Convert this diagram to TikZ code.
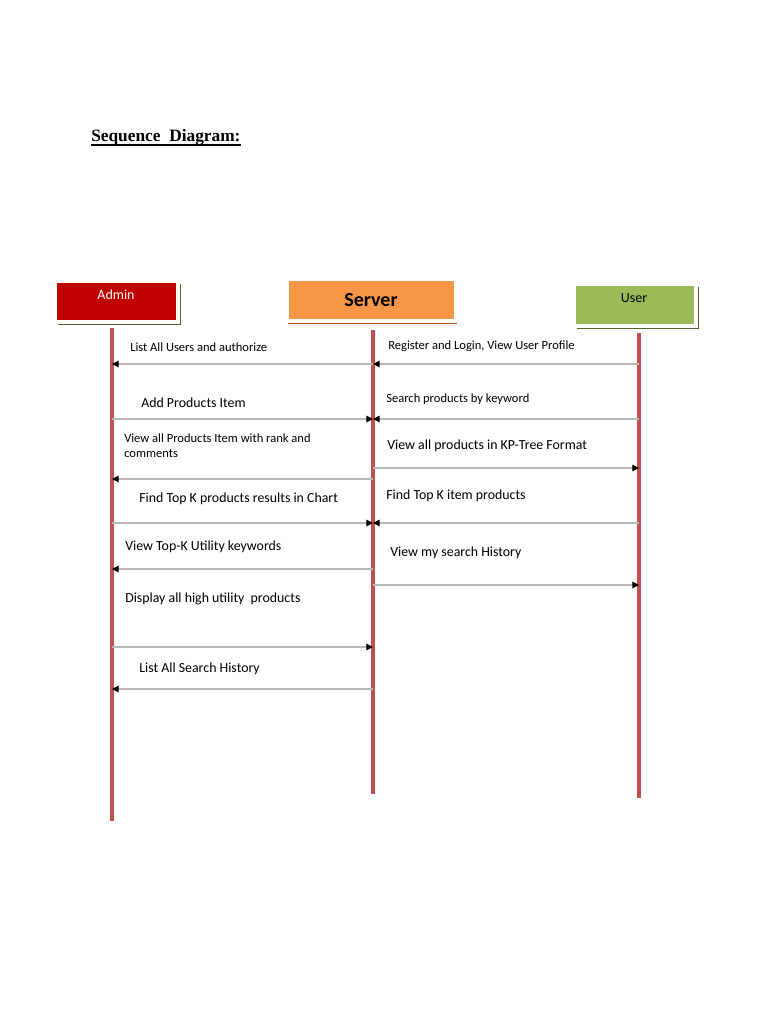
\documentclass[tikz,border=0pt]{standalone}
\usepackage{fontspec}
\setmainfont{Carlito}
\newfontfamily\titlefont{Liberation Serif}
\usepackage{tikz}
\usetikzlibrary{arrows.meta,shadows}

\definecolor{adminred}{HTML}{C00000}
\definecolor{serverorange}{HTML}{F79646}
\definecolor{usergreen}{HTML}{9BBB59}
\definecolor{lifered}{HTML}{C0504D}
\definecolor{oliveshadow}{HTML}{4F6228}
\definecolor{orangeshadow}{HTML}{B65708}

\begin{document}
\begin{tikzpicture}[x=0.75pt,y=-0.75pt,
	actorbox/.style={draw=white,line width=3pt,inner sep=0pt},
	lifeline/.style={draw=lifered,line width=2.4pt},
	msg/.style={draw=black!28,line width=0.8pt,-{Triangle[length=5pt,width=5pt,black]}},
	small/.style={font=\fontsize{9.4}{11.5}\selectfont,anchor=west,inner sep=0pt},
	big/.style={font=\fontsize{10.4}{12.5}\selectfont,anchor=west,inner sep=0pt}]
		\useasboundingbox (0,0) rectangle (768,1024);

		\node[anchor=base west,inner sep=0pt,font=\titlefont\bfseries\fontsize{13}{15}\selectfont] (title) at (91,142) {Sequence\ \ Diagram:};
		\draw[line width=0.9pt] (title.base west) ++(0,3) -- (title.base east |- 0,145);

		% actors
		\node[actorbox,fill=adminred,minimum width=92.25pt,minimum height=30.75pt,
			general shadow={fill=oliveshadow,shadow xshift=2.25pt,shadow yshift=-2.25pt}] (admin) at (116.5,301.5) {};
		\node[actorbox,fill=serverorange,minimum width=126.75pt,minimum height=31.5pt,
			general shadow={fill=orangeshadow,shadow xshift=0.75pt,shadow yshift=-2.25pt}] (server) at (371.5,300) {};
		\node[actorbox,fill=usergreen,minimum width=91.5pt,minimum height=31.5pt,
			general shadow={fill=oliveshadow,shadow xshift=2.25pt,shadow yshift=-2.25pt}] (user) at (635,305) {};

		\node[white,font=\fontsize{10.5}{12}\selectfont] (adminlbl) at (116,295) {Admin};
		\node[font=\bfseries\fontsize{15}{17}\selectfont] (serverlbl) at (371,300) {Server};
		\node[font=\fontsize{10.5}{12}\selectfont] (userlbl) at (634,298) {User};

		% lifelines
		\coordinate (adminline) at (112,328);
		\coordinate (serverline) at (373,330);
		\coordinate (userline) at (639,333);
		\draw[lifeline] (adminline) -- (112,821);
		\draw[lifeline] (serverline) -- (373,794);
		\draw[lifeline] (userline) -- (639,798);

		% messages
		\draw[msg] (serverline |- 0,364) -- (adminline |- 0,364);
		\node[small] (m1) at (130,347) {List All Users and authorize};
		\draw[msg] (userline |- 0,364) -- (serverline |- 0,364);
		\node[small] (m2) at (388,346) {Register and Login, View User Profile};

		\draw[msg] (adminline |- 0,419) -- (serverline |- 0,419);
		\node[big] (m3) at (141,403) {Add Products Item};
		\draw[msg] (userline |- 0,419) -- (serverline |- 0,419);
		\node[small] (m4) at (386,399) {Search products by keyword};

		\draw[msg] (serverline |- 0,479) -- (adminline |- 0,479);
		\node[small,align=left] (m5) at (124,446) {View all Products Item with rank and\\comments};
		\draw[msg] (serverline |- 0,468) -- (userline |- 0,468);
		\node[big] (m6) at (387,446) {View all products in KP-Tree Format};

		\draw[msg] (adminline |- 0,523) -- (serverline |- 0,523);
		\node[big] (m7) at (139,499) {Find Top K products results in Chart};
		\draw[msg] (userline |- 0,523) -- (serverline |- 0,523);
		\node[big] (m8) at (386,496) {Find Top K item products};

		\draw[msg] (serverline |- 0,569) -- (adminline |- 0,569);
		\node[big] (m9) at (125,547) {View Top-K Utility keywords};
		\draw[msg] (serverline |- 0,585) -- (userline |- 0,585);
		\node[big] (m10) at (390,553) {View my search History};

		\draw[msg] (adminline |- 0,647) -- (serverline |- 0,647);
		\node[big] (m11) at (125,599) {Display all high utility\ \ products};
		\draw[msg] (serverline |- 0,689) -- (adminline |- 0,689);
		\node[big] (m12) at (139,669) {List All Search History};
\end{tikzpicture}
\end{document}
